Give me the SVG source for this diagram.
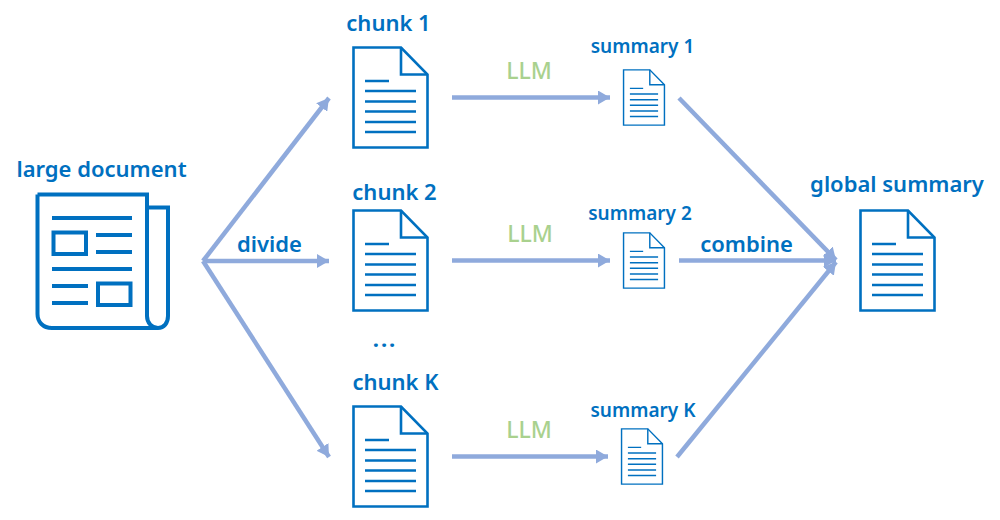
<svg xmlns="http://www.w3.org/2000/svg" width="1000" height="520" viewBox="0 0 1000 520">
<style>
text{font-family:"Noto Sans","Liberation Sans",sans-serif;font-weight:600;fill:#0070c0;text-anchor:middle}
.t1{font-size:22px}.t2{font-size:19px}
.llm{font-size:23px;fill:#a9d18e;font-weight:500}
.ln{fill:none;stroke:#0070c0;stroke-width:4}
.cn{fill:none;stroke:#8faadc;stroke-width:4.500;marker-end:url(#ah)}
</style>
<defs>
<marker id="ah" markerUnits="userSpaceOnUse" markerWidth="14" markerHeight="14" refX="12" refY="7" orient="auto"><path d="M0 0L12 7L0 14Z" fill="#8faadc"/></marker>
<symbol id="doc" viewBox="0 0 76 102" overflow="visible"><g fill="none" stroke="#0070c0" stroke-width="2.6"><path d="M1 1H48.500L75 28V101H1Z"/><path d="M48.500 1V28H75"/><path d="M12.500 34.500H36.500M12.500 44.500H63.500M12.500 55H63.500M12.500 65H63.500M12.500 75.500H63.500M12.500 85.500H63.500"/></g></symbol>
</defs>
<g id="connectors">
<path class="cn" d="M203 261H329"/><path class="cn" d="M203 261L329 98"/><path class="cn" d="M203 261L329 457"/>
<path class="cn" d="M452 97.500H610"/><path class="cn" d="M452 260.500H610"/><path class="cn" d="M452 456.500H608"/>
<path class="cn" d="M679 98L836 260"/><path class="cn" d="M679 260.500H836"/><path class="cn" d="M677 457L836 262"/>
</g>
<g id="large-document">
<text class="t1" x="101.500" y="177">large document</text>
<path class="ln" d="M37.500 194.500H147V316C147 323 152 328 158 328C164 328 168 323 168 316V207.500H147M158 328H52C43 328 37.500 322 37.500 314V194.500"/>
<path class="ln" d="M52 218H132M96 235H132M96 252H132M52 269H132M52 286H88M52 303H88"/>
<path class="ln" d="M53.500 232.500H86V254H53.500ZM98 283.500H130.500V305H98Z"/>
</g>
<g id="chunk-1"><text class="t1" x="388.500" y="31">chunk 1</text><use href="#doc" x="352.500" y="46.500" width="76" height="102"/></g>
<g id="chunk-2"><text class="t1" x="394.500" y="200">chunk 2</text><use href="#doc" x="352.500" y="209.500" width="76" height="102"/></g>
<g id="ellipsis"><text class="t1" x="385" y="347" style="font-weight:700;letter-spacing:2px">...</text></g>
<g id="chunk-k"><text class="t1" x="395.500" y="390">chunk K</text><use href="#doc" x="352.500" y="405.500" width="76" height="102"/></g>
<g id="summary-1"><text class="t2" x="642.500" y="53">summary 1</text><use href="#doc" x="623" y="69" width="42" height="57"/></g>
<g id="summary-2"><text class="t2" x="640" y="220">summary 2</text><use href="#doc" x="623" y="232" width="42" height="57"/></g>
<g id="summary-k"><text class="t2" x="643" y="417">summary K</text><use href="#doc" x="621" y="428" width="42" height="57"/></g>
<g id="global-summary"><text class="t1" x="897" y="192">global summary</text><use href="#doc" x="859.500" y="209.500" width="76" height="102"/></g>
<g id="labels">
<text class="t1" x="269.500" y="252">divide</text>
<text class="llm" x="529" y="79">LLM</text>
<text class="llm" x="530" y="242">LLM</text>
<text class="llm" x="529" y="438">LLM</text>
<text class="t1" x="746.500" y="252">combine</text>
</g>
</svg>
